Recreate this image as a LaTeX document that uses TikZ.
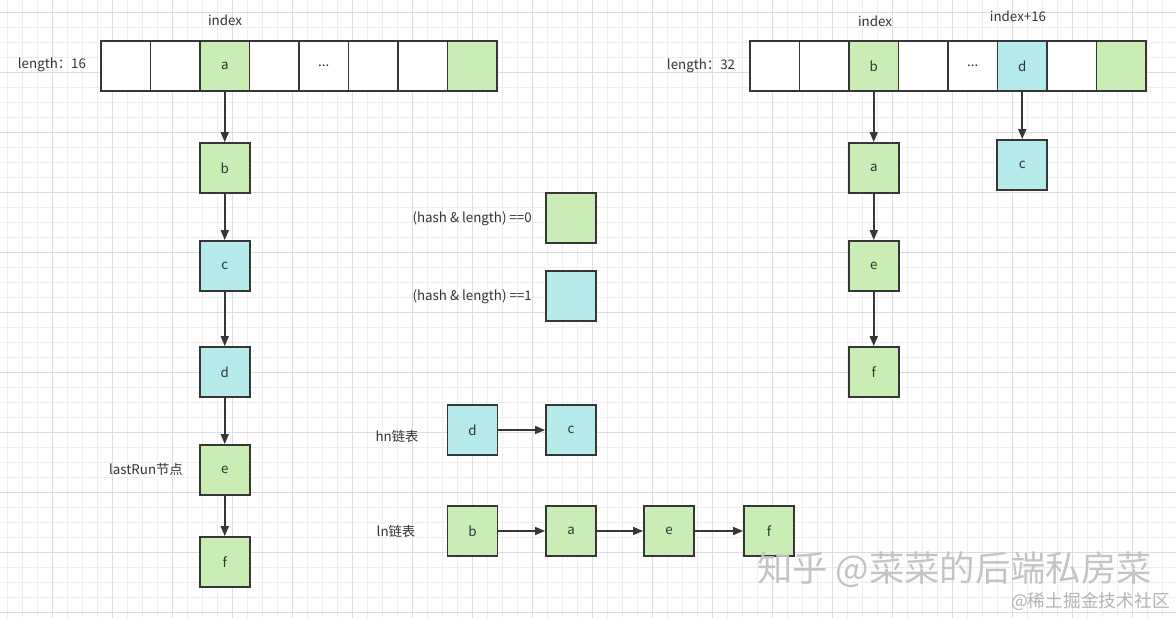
\documentclass[tikz,border=0pt]{standalone}
\usepackage{fontspec}
\setmainfont{Noto Sans CJK SC}
\usetikzlibrary{arrows.meta}
\definecolor{gfill}{HTML}{C9EDB5}
\definecolor{bfill}{HTML}{B5E9EA}
\definecolor{bd}{HTML}{363636}
\definecolor{txt}{HTML}{333333}
\definecolor{gminor}{HTML}{EEEEEE}
\definecolor{gmajor}{HTML}{DDDDDD}
\definecolor{wm}{HTML}{C4C4C4}
\definecolor{wmtwo}{HTML}{B4B4B4}
\begin{document}
\begin{tikzpicture}[x=0.75pt,y=-0.75pt,
  box/.style={draw=bd, line width=1.4pt, minimum width=37.5pt, minimum height=37.5pt, inner sep=0pt, font=\fontsize{10}{11}\selectfont, text=txt},
  acell/.style={box, fill=white, minimum width=37.1pt},
  gbox/.style={box, fill=gfill},
  bbox/.style={box, fill=bfill},
  lbl/.style={font=\fontsize{10}{11}\selectfont, text=txt, inner sep=0pt},
  arr/.style={draw=bd, line width=1.2pt, -{Triangle[length=7.5pt,width=6pt]}}]
\fill[white] (0,0) rectangle (1176,618);
\useasboundingbox (0,0) rectangle (1176,618);
% grid
\foreach \x in {7,22,...,1175} \draw[gminor, line width=0.75pt] (\x,0) -- (\x,618);
\foreach \y in {12,27,...,617} \draw[gminor, line width=0.75pt] (0,\y) -- (1176,\y);
\foreach \x in {52,112,...,1175} \draw[gmajor, line width=0.75pt] (\x,0) -- (\x,618);
\foreach \y in {12,72,...,617} \draw[gmajor, line width=0.75pt] (0,\y) -- (1176,\y);

% left array (length 16)
\node[acell] (L0) at (125.75,66) {};
\node[acell] (L1) at (175.25,66) {};
\node[acell, fill=gfill] (L2) at (224.75,66) {a};
\node[acell] (L3) at (274.25,66) {};
\node[acell] (L4) at (323.75,66) {...};
\node[acell] (L5) at (373.25,66) {};
\node[acell] (L6) at (422.75,66) {};
\node[acell, fill=gfill] (L7) at (472.25,66) {};
\node[lbl] (lidx) at (225,20) {index};
\node[lbl] (llen) at (52,65) {length：16};

% left chain
\node[gbox] (lb) at (224.75,168) {b};
\node[bbox] (lc) at (224.75,266) {c};
\node[bbox] (ld) at (224.75,372) {d};
\node[gbox] (le) at (224.75,470) {e};
\node[gbox] (lf) at (224.75,562) {f};
\node[lbl] (lrun) at (146,469) {lastRun节点};
\draw[arr] (L2.south) -- (lb.north);
\draw[arr] (lb.south) -- (lc.north);
\draw[arr] (lc.south) -- (ld.north);
\draw[arr] (ld.south) -- (le.north);
\draw[arr] (le.south) -- (lf.north);

% right array (length 32)
\node[acell] (R0) at (774.75,66) {};
\node[acell] (R1) at (824.25,66) {};
\node[acell, fill=gfill] (R2) at (873.75,66) {b};
\node[acell] (R3) at (923.25,66) {};
\node[acell] (R4) at (972.75,66) {...};
\node[acell, fill=bfill] (R5) at (1022.25,66) {d};
\node[acell] (R6) at (1071.75,66) {};
\node[acell, fill=gfill] (R7) at (1121.25,66) {};
\node[lbl] (ridx) at (875,21) {index};
\node[lbl] (ridx2) at (1018,16) {index+16};
\node[lbl] (rlen) at (701,66) {length：32};

% right chains
\node[gbox] (ra) at (873.75,168) {a};
\node[gbox] (re) at (873.75,266) {e};
\node[gbox] (rf) at (873.75,372) {f};
\node[bbox] (rc) at (1022.25,165) {c};
\draw[arr] (R2.south) -- (ra.north);
\draw[arr] (ra.south) -- (re.north);
\draw[arr] (re.south) -- (rf.north);
\draw[arr] (R5.south) -- (rc.north);

% legend
\node[gbox] (leg0) at (571,218) {};
\node[bbox] (leg1) at (571,296) {};
\node[lbl, anchor=east] (leg0t) at (532,219) {(hash \& length) ==0};
\node[lbl, anchor=east] (leg1t) at (532,297) {(hash \& length) ==1};

% hn list
\node[bbox] (hd) at (472.5,430) {d};
\node[bbox] (hc) at (571,430) {c};
\node[lbl] (hnt) at (397,436) {hn链表};
\draw[arr] (hd.east) -- (hc.west);

% ln list
\node[gbox] (nb) at (472.5,531) {b};
\node[gbox] (na) at (571,531) {a};
\node[gbox] (ne) at (669,531) {e};
\node[gbox] (nf) at (769,531) {f};
\node[lbl] (lnt) at (396,531) {ln链表};
\draw[arr] (nb.east) -- (na.west);
\draw[arr] (na.east) -- (ne.west);
\draw[arr] (ne.east) -- (nf.west);

% watermarks
\node[anchor=west, inner sep=0pt, text=wm, font=\fontsize{26.5}{27}\selectfont] (wm1) at (757,570) {知乎 @菜菜的后端私房菜};
\node[anchor=east, inner sep=0pt, text=wmtwo, font=\fontsize{13.3}{14}\selectfont] (wm2) at (1170,601) {@稀土掘金技术社区};
\end{tikzpicture}
\end{document}
